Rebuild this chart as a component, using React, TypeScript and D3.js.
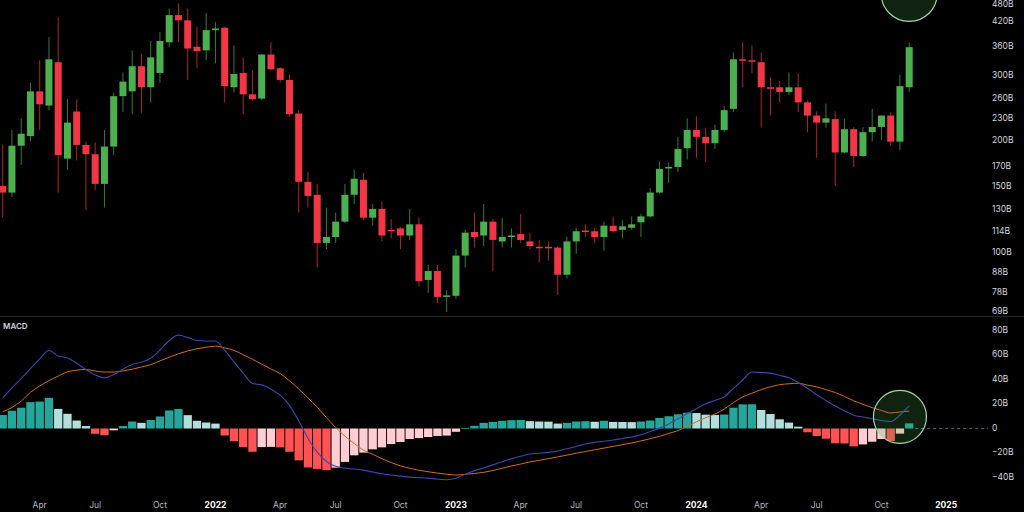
import * as d3 from "d3";

// 2-week candles, values in billions
const barOpen = [
  151, 145, 194, 206, 272, 249, 326, 179, 240, 195, 184, 153, 193, 264, 272, 318, 279, 305, 369, 437,
  423, 359, 351, 398, 404, 279, 305, 267, 260, 342, 314, 292, 237, 155, 143, 106, 110, 121, 143, 157,
  124, 131, 115, 116, 111, 119, 84.2, 89, 76, 76.3, 98, 113.5, 111, 121, 107, 110, 112, 107, 103.5, 103.5,
  103, 87, 107, 114.5, 114, 110, 118, 115, 116.5, 120.5, 125, 145, 169, 170, 191, 214, 205, 197, 214, 244,
  332, 330, 326, 279, 279, 271, 279, 254, 234, 224, 229, 186, 215, 182, 211, 218, 234, 199, 279,
];
const barHigh = [
  195, 214, 230, 287, 330, 381, 431, 259, 259, 199, 198, 214, 270, 306, 351, 344, 372, 393, 455, 470,
  455, 406, 443, 418, 406, 362, 336, 310, 343, 369, 316, 302, 242, 165, 153, 132, 128, 153, 167, 164,
  135, 137, 123, 117, 131, 124, 92.5, 92.5, 79, 102, 115, 128, 135, 123, 124, 116, 127, 113, 108, 107,
  104, 110, 116.5, 119, 116.5, 121, 125, 122, 125, 127, 149, 176, 175, 205, 230, 233, 217, 221, 248, 346,
  369, 362, 346, 297, 290, 306, 304, 257, 240, 252, 240, 229, 218, 218, 244, 234, 239, 302, 369,
];
const barLow = [
  124, 141, 172, 199, 214, 242, 145, 167, 177, 130, 147, 132, 183, 239, 236, 238, 254, 287, 358, 369,
  292, 314, 330, 324, 254, 270, 236, 257, 258, 310, 287, 232, 128, 132, 91, 102, 106, 120, 135, 122,
  118, 107, 109, 102, 108, 80.9, 77.6, 73, 69, 75, 91, 103, 104, 89, 103, 103, 106, 102, 93.8, 95,
  76.7, 85, 99, 110, 106, 101, 113, 109, 115, 110, 124, 144, 154, 165, 178, 180, 175, 190, 211, 239,
  279, 305, 217, 234, 254, 266, 239, 211, 180, 217, 151, 185, 170, 181, 199, 201, 194, 189, 271,
];
const barClose = [
  145, 194, 209, 272, 251, 332, 183, 224, 195, 184, 153, 193, 264, 289, 318, 279, 336, 372, 437, 423,
  355, 349, 398, 402, 281, 303, 267, 259, 342, 312, 292, 236, 155, 142, 106, 110, 121, 143, 158, 124,
  131, 111, 114, 111, 119, 83.5, 89, 75.8, 76.5, 98, 113, 110, 121, 108, 110, 111, 108, 104, 103, 103,
  87, 107, 114, 114, 110, 118, 114, 117.5, 119, 125, 145, 168, 170, 190, 214, 205, 197, 214, 242, 332,
  330, 327, 279, 278, 271, 279, 254, 234, 224, 230, 186, 215, 182, 211, 218, 234, 199, 281, 358,
];

// MACD pane (billions)
const macdLine = [
  24.9, 33.1, 40.8, 48.9, 56.9, 63.7, 59.2, 57.6, 53.3, 48.1, 43.7, 41.3, 44.1, 48.4, 52.3, 54.1, 57.4, 63.9, 71.8, 76.2,
  74.4, 71.8, 71.4, 71.4, 63.7, 54.4, 45.1, 36.8, 35.6, 32.2, 27.2, 18.9, 6.3, -8.0, -19.3, -26.9, -30.9, -32.4, -33.1, -34.0,
  -35.5, -37.0, -38.0, -38.9, -39.7, -40.1, -40.5, -41.4, -41.8, -40.6, -37.3, -34.4, -32.2, -29.7, -27.1, -24.6, -22.7, -20.8, -20.2, -19.5,
  -18.3, -16.5, -14.7, -12.7, -11.3, -10.4, -9.4, -8.1, -6.9, -5.1, -2.5, 0.3, 3.7, 7.9, 12.2, 16.2, 20.2, 22.9, 25.8, 32.8,
  39.6, 46.1, 45.7, 45.2, 43.3, 41.5, 37.6, 32.9, 27.5, 22.9, 18.4, 14.5, 10.9, 9.4, 7.9, 6.5, 5.7, 11.0, 18.5,
];
const signalLine = [
  13.7, 17.2, 22.4, 29.5, 34.7, 39.1, 42.8, 46.3, 47.6, 48.2, 46.9, 46.1, 46.1, 47.0, 48.4, 50.2, 52.1, 55.2, 58.2, 61.0,
  63.3, 65.1, 66.3, 67.2, 65.8, 63.8, 60.2, 56.5, 52.5, 48.6, 44.8, 39.0, 32.3, 24.9, 17.4, 8.9, 0.8, -6.2, -12.2, -17.7,
  -21.1, -24.7, -27.8, -30.5, -32.4, -34.1, -35.3, -36.4, -37.3, -38.0, -37.4, -36.7, -35.8, -34.3, -32.4, -30.6, -29.0, -27.3, -26.0, -24.6,
  -23.2, -21.7, -20.2, -18.8, -17.4, -16.0, -14.6, -13.2, -11.8, -10.2, -8.3, -6.4, -4.0, -1.7, 1.7, 5.5, 8.8, 11.8, 15.8, 21.1,
  25.8, 28.8, 31.8, 34.0, 35.8, 36.5, 37.0, 35.4, 34.0, 31.7, 29.4, 26.2, 22.6, 19.8, 17.0, 14.7, 12.7, 13.5, 14.2,
];
const histogram = [
  11, 14.5, 17, 21.5, 22, 25, 16, 12, 6.5, 2, -4.3, -5.5, -1.5, 2, 5.7, 4.6, 7, 9.8, 14.7, 16,
  10.9, 6.3, 4.9, 4, -5.7, -10.3, -15.2, -19, -15.2, -15, -15.4, -19, -26, -31.8, -33, -34, -32, -27.3, -21.9, -19.7,
  -17, -15.4, -12.7, -11, -8.6, -7.8, -7, -6.1, -5.8, -2.7, 0.5, 2.2, 4.6, 5.4, 6.3, 6.8, 7, 6, 5.7, 5.6,
  4, 4.6, 5.7, 5.9, 5.5, 6.3, 5.4, 5.3, 5.2, 5.7, 6.5, 8.6, 10, 11.6, 12.9, 12.6, 11.3, 11, 11.4, 17,
  19.7, 19.8, 15.1, 11.8, 7.5, 4.8, 1.5, -3.1, -6.1, -8.3, -12.1, -12.2, -14.6, -13, -10.8, -8.6, -10.2, -4.2, 4.2,
];

const firstBar = Date.UTC(2021, 1, 15);
const barDays = 14;

const priceTicks = [69, 78, 88, 100, 114, 130, 150, 170, 200, 230, 260, 300, 360, 420, 480];
const macdTicks = [80, 60, 40, 20, 0, -20, -40];
const timeTickDates = [
  "2021-04-01", "2021-07-01", "2021-10-01", "2022-01-01", "2022-04-01", "2022-07-01", "2022-10-01", "2023-01-01",
  "2023-04-01", "2023-07-01", "2023-10-01", "2024-01-01", "2024-04-01", "2024-07-01", "2024-10-01", "2025-01-01",
];
const timeTickLabels = ["Apr", "Jul", "Oct", "2022", "Apr", "Jul", "Oct", "2023", "Apr", "Jul", "Oct", "2024", "Apr", "Jul", "Oct", "2025"];

const UP = "#4caf50";
const DOWN = "#f23645";
const FONT = "Inter, 'Noto Sans', sans-serif";

export default function App() {
  const n = barClose.length;
  const x = d3.scaleLinear().domain([0, n - 1]).range([2.7, 909.2]);
  const yPrice = d3.scaleLog().domain([69, 480]).range([312, 0]);
  const yMacd = d3.scaleLinear().domain([-40, 80]).range([477.5, 330.5]);

  const bodyW = 7;
  const histW = 8.3;

  // label sits on the first bar of the period, like the source chart
  const barIndexFor = (iso: string) => {
    const t = Date.parse(iso);
    let i = 0;
    while (firstBar + i * barDays * 86400000 < t) i++;
    return i;
  };

  const line = d3
    .line<number>()
    .x((_, i) => x(i))
    .y((v) => yMacd(v))
    .curve(d3.curveMonotoneX);

  const histColor = (v: number, i: number) => {
    const prev = i > 0 ? histogram[i - 1] : v;
    if (v >= 0) return v >= prev ? "#26a69a" : "#b2dfdb";
    return v <= prev ? "#ff5252" : "#ffcdd2";
  };

  return (
    <svg
      width={1024}
      height={512}
      style={{ position: "absolute", left: 0, top: 0, background: "#000" }}
    >
      <rect width={1024} height={512} fill="#000" />
      <line x1={0} x2={1024} y1={316.5} y2={316.5} stroke="#262626" />

      {/* candles */}
      <g>
        {barClose.map((c, i) => {
          const o = barOpen[i];
          const col = c >= o ? UP : DOWN;
          const top = yPrice(Math.max(o, c));
          const bot = yPrice(Math.min(o, c));
          return (
            <g key={i}>
              <line
                x1={x(i)}
                x2={x(i)}
                y1={yPrice(barHigh[i])}
                y2={yPrice(barLow[i])}
                stroke={col}
                strokeOpacity={0.7}
                strokeWidth={1}
              />
              <rect
                x={x(i) - bodyW / 2}
                y={top}
                width={bodyW}
                height={Math.max(1.5, bot - top)}
                fill={col}
              />
            </g>
          );
        })}
      </g>

      {/* price axis; the top label is clipped by the pane edge in the source */}
      <g fontFamily={FONT} fontSize={8.5} fill="#d1d4dc">
        {priceTicks.map((v) => (
          <text key={v} x={992} y={Math.max(5, yPrice(v))} dominantBaseline="middle">
            {`${v}B`}
          </text>
        ))}
      </g>

      {/* MACD pane */}
      <text x={3} y={329} fontFamily={FONT} fontSize={8} fontWeight={600} fill="#d1d4dc">
        MACD
      </text>
      <line
        x1={x(n - 1) + 6}
        x2={988}
        y1={yMacd(0)}
        y2={yMacd(0)}
        stroke="#5d606b"
        strokeDasharray="3 3"
      />
      <g>
        {histogram.map((v, i) => (
          <rect
            key={i}
            x={x(i) - histW / 2}
            y={Math.min(yMacd(v), yMacd(0))}
            width={histW}
            height={Math.max(0.8, Math.abs(yMacd(v) - yMacd(0)))}
            fill={histColor(v, i)}
          />
        ))}
      </g>
      <path d={line(signalLine) ?? ""} fill="none" stroke="#d06a2c" strokeWidth={1} />
      <path d={line(macdLine) ?? ""} fill="none" stroke="#3949ab" strokeWidth={1.1} />

      <g fontFamily={FONT} fontSize={8.5} fill="#d1d4dc">
        {macdTicks.map((v) => (
          <text key={v} x={992} y={yMacd(v)} dominantBaseline="middle">
            {v === 0 ? "0" : v < 0 ? `\u2212${-v}B` : `${v}B`}
          </text>
        ))}
      </g>

      {/* highlight circles */}
      <circle
        cx={x(n - 1)}
        cy={yPrice(500)}
        r={28}
        fill="rgba(76,175,80,0.2)"
        stroke="#a5d6a7"
        strokeWidth={1.2}
      />
      <circle
        cx={x(n - 2)}
        cy={yMacd(9.5)}
        r={26.5}
        fill="rgba(76,175,80,0.2)"
        stroke="#a5d6a7"
        strokeWidth={1.2}
      />

      {/* time axis */}
      <g fontFamily={FONT} fontSize={8.5} textAnchor="middle">
        {timeTickDates.map((d, k) => {
          const isYear = /^\d{4}$/.test(timeTickLabels[k]);
          return (
            <text
              key={d}
              x={x(barIndexFor(d))}
              y={505.5}
              dominantBaseline="middle"
              fill={isYear ? "#ffffff" : "#b2b5be"}
              fontWeight={isYear ? 700 : 400}
            >
              {timeTickLabels[k]}
            </text>
          );
        })}
      </g>
    </svg>
  );
}
